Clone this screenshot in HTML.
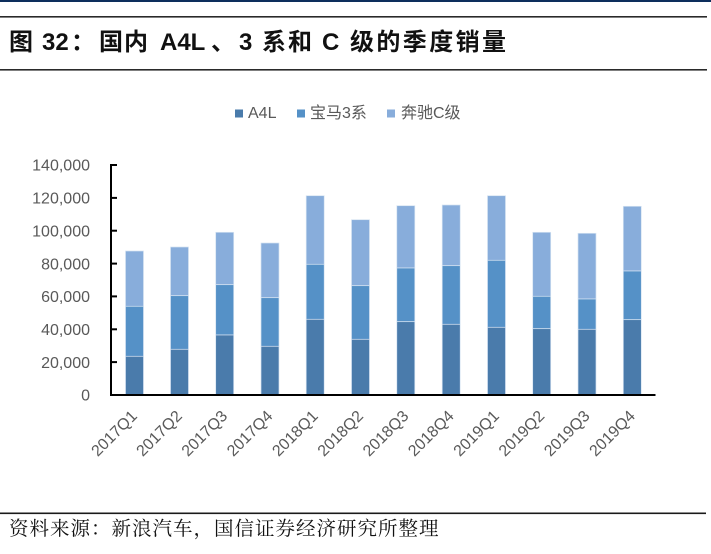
<!DOCTYPE html>
<html><head><meta charset="utf-8"><style>
html,body{margin:0;padding:0;background:#fff;}
svg{display:block;}
</style></head><body>
<svg width="711" height="554" viewBox="0 0 711 554" xmlns="http://www.w3.org/2000/svg">
<rect x="0" y="0" width="711" height="554" fill="#fff"/>
<rect x="0" y="0" width="711" height="2" fill="#0d2e5c"/>
<rect x="0" y="16" width="707" height="1.6" fill="#2a2a2a"/>
<g font-family="Liberation Sans, Noto Sans CJK SC, sans-serif" font-size="24" font-weight="bold" fill="#111">
<text x="9" y="50">图</text>
<text x="42" y="50">32</text>
<text x="71" y="50">：</text>
<text x="99" y="50" letter-spacing="1">国内</text>
<text x="160" y="50">A4L</text>
<text x="211" y="50">、</text>
<text x="239" y="50">3</text>
<text x="262" y="50" letter-spacing="2">系和</text>
<text x="322" y="50">C</text>
<text x="350" y="50" letter-spacing="2.4">级的季度销量</text>
</g>
<rect x="0" y="69" width="707" height="1.6" fill="#2a2a2a"/>

<g font-family="Liberation Sans, Noto Sans CJK SC, sans-serif" font-size="16" fill="#595959">
<rect x="235" y="109.5" width="8" height="8" fill="#4a7bab"/>
<text x="248" y="118">A4L</text>
<rect x="297" y="109.5" width="8" height="8" fill="#5591c7"/>
<text x="310" y="118">宝马3系</text>
<rect x="387" y="109.5" width="8" height="8" fill="#88addb"/>
<text x="401" y="118">奔驰C级</text>
</g>

<g font-family="Liberation Sans, sans-serif" font-size="16" fill="#595959" text-anchor="end">
<text x="90" y="170.7">140,000</text>
<text x="90" y="203.6">120,000</text>
<text x="90" y="236.4">100,000</text>
<text x="90" y="269.3">80,000</text>
<text x="90" y="302.1">60,000</text>
<text x="90" y="335">40,000</text>
<text x="90" y="367.9">20,000</text>
<text x="90" y="400.7">0</text>
</g>

<g stroke="#d6e3f2" stroke-width="0.7">
<rect x="125.5" y="251" width="18" height="55.3" fill="#88addb"/>
<rect x="125.5" y="306.3" width="18" height="50" fill="#5591c7"/>
<rect x="125.5" y="356.3" width="18" height="38.7" fill="#4a7bab"/>
<rect x="170.5" y="247" width="18" height="48.7" fill="#88addb"/>
<rect x="170.5" y="295.7" width="18" height="53.6" fill="#5591c7"/>
<rect x="170.5" y="349.3" width="18" height="45.7" fill="#4a7bab"/>
<rect x="215.7" y="232.3" width="18" height="52.4" fill="#88addb"/>
<rect x="215.7" y="284.7" width="18" height="50.3" fill="#5591c7"/>
<rect x="215.7" y="335" width="18" height="60" fill="#4a7bab"/>
<rect x="261" y="243" width="18" height="54.7" fill="#88addb"/>
<rect x="261" y="297.7" width="18" height="48.6" fill="#5591c7"/>
<rect x="261" y="346.3" width="18" height="48.7" fill="#4a7bab"/>
<rect x="306.2" y="195.7" width="18" height="68.6" fill="#88addb"/>
<rect x="306.2" y="264.3" width="18" height="55" fill="#5591c7"/>
<rect x="306.2" y="319.3" width="18" height="75.7" fill="#4a7bab"/>
<rect x="351.5" y="219.7" width="18" height="66" fill="#88addb"/>
<rect x="351.5" y="285.7" width="18" height="53.6" fill="#5591c7"/>
<rect x="351.5" y="339.3" width="18" height="55.7" fill="#4a7bab"/>
<rect x="396.8" y="205.7" width="18" height="62.3" fill="#88addb"/>
<rect x="396.8" y="268" width="18" height="53.7" fill="#5591c7"/>
<rect x="396.8" y="321.7" width="18" height="73.3" fill="#4a7bab"/>
<rect x="442.2" y="205" width="18" height="60.7" fill="#88addb"/>
<rect x="442.2" y="265.7" width="18" height="58.6" fill="#5591c7"/>
<rect x="442.2" y="324.3" width="18" height="70.7" fill="#4a7bab"/>
<rect x="487.5" y="195.7" width="18" height="64.6" fill="#88addb"/>
<rect x="487.5" y="260.3" width="18" height="67" fill="#5591c7"/>
<rect x="487.5" y="327.3" width="18" height="67.7" fill="#4a7bab"/>
<rect x="532.7" y="232.3" width="18" height="64" fill="#88addb"/>
<rect x="532.7" y="296.3" width="18" height="32.4" fill="#5591c7"/>
<rect x="532.7" y="328.7" width="18" height="66.3" fill="#4a7bab"/>
<rect x="578" y="233.3" width="18" height="65.7" fill="#88addb"/>
<rect x="578" y="299" width="18" height="30.3" fill="#5591c7"/>
<rect x="578" y="329.3" width="18" height="65.7" fill="#4a7bab"/>
<rect x="623.3" y="206.3" width="18" height="64.7" fill="#88addb"/>
<rect x="623.3" y="271" width="18" height="48.7" fill="#5591c7"/>
<rect x="623.3" y="319.7" width="18" height="75.3" fill="#4a7bab"/>
</g>

<g stroke="#000" stroke-width="2">
<line x1="111" y1="164" x2="111" y2="396"/>
<line x1="110" y1="395" x2="655.5" y2="395"/>
<line x1="111" y1="165" x2="117" y2="165"/>
<line x1="111" y1="197.9" x2="117" y2="197.9"/>
<line x1="111" y1="230.7" x2="117" y2="230.7"/>
<line x1="111" y1="263.6" x2="117" y2="263.6"/>
<line x1="111" y1="296.4" x2="117" y2="296.4"/>
<line x1="111" y1="329.3" x2="117" y2="329.3"/>
<line x1="111" y1="362.1" x2="117" y2="362.1"/>
</g>

<g font-family="Liberation Sans, sans-serif" font-size="16" fill="#595959" text-anchor="end">
<text transform="translate(138,417) rotate(-45)">2017Q1</text>
<text transform="translate(183,417) rotate(-45)">2017Q2</text>
<text transform="translate(228.3,417) rotate(-45)">2017Q3</text>
<text transform="translate(273.6,417) rotate(-45)">2017Q4</text>
<text transform="translate(318.9,417) rotate(-45)">2018Q1</text>
<text transform="translate(364.2,417) rotate(-45)">2018Q2</text>
<text transform="translate(409.5,417) rotate(-45)">2018Q3</text>
<text transform="translate(454.8,417) rotate(-45)">2018Q4</text>
<text transform="translate(500.1,417) rotate(-45)">2019Q1</text>
<text transform="translate(545.4,417) rotate(-45)">2019Q2</text>
<text transform="translate(590.7,417) rotate(-45)">2019Q3</text>
<text transform="translate(636,417) rotate(-45)">2019Q4</text>
</g>

<rect x="0" y="512.5" width="706" height="1.6" fill="#1a1a1a"/>
<text x="9" y="535" font-family="Liberation Serif, Noto Serif CJK SC, serif" font-size="19.5" letter-spacing="1" fill="#111">资料来源：新浪汽车，国信证券经济研究所整理</text>
</svg>
</body></html>
